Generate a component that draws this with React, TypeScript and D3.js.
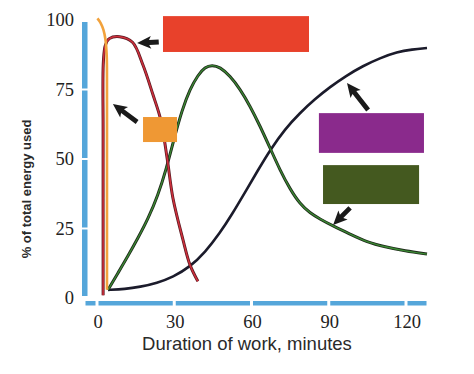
import React from "react";
import * as d3 from "d3";

const W = 474;
const H = 374;

const xTicks = [0, 30, 60, 90, 120];
const yTicks = [0, 25, 50, 75, 100];

// [minutes, % of total energy]
const orangeSeries: [number, number][] = [
  [-0.6, 100.6], [0.6, 99], [1.7, 96.5], [2.5, 93], [3.0, 87], [3.1, 75], [3.1, 50], [3.1, 25], [3.1, 3],
];
const redSeries: [number, number][] = [
  [1.6, 1], [1.6, 30], [1.6, 60], [1.7, 85], [2.5, 91], [4, 93.3], [8, 94], [13, 92], [17, 84],
  [21, 73], [24, 64], [26.5, 50], [28.7, 36], [32.6, 21], [35.3, 12], [38.4, 6],
];
const greenSeries: [number, number][] = [
  [3.5, 2.9], [7.38, 9.0], [11.26, 15.1], [15.15, 21.6], [19.03, 28.4], [22.91, 37.0],
  [26.02, 46.0], [29.13, 57.2], [32.23, 67.6], [35.34, 75.2], [38.45, 80.2], [41.17, 83.1],
  [43.88, 83.8], [46.99, 83.1], [50.87, 79.9], [54.76, 75.2], [58.64, 69.1], [62.52, 61.9],
  [66.41, 54.0], [70.29, 46.0], [74.17, 39.2], [78.06, 33.8], [81.94, 30.6], [85.83, 28.4],
  [90.87, 25.9], [97.48, 23.0], [104.08, 20.1], [111.07, 18.4], [118.83, 16.9], [127.38, 15.8],
];
const blackSeries: [number, number][] = [
  [3.5, 2.9], [10.1, 3.2], [15.92, 4.0], [22.52, 5.4], [28.74, 7.55], [35.34, 11.2],
  [41.17, 16.4], [46.99, 23.4], [51.65, 30.1], [56.7, 38.0], [61.75, 46.0], [66.41, 53.2],
  [72.23, 60.8], [78.06, 66.6], [83.88, 71.6], [89.71, 75.9], [95.92, 79.9], [102.52, 83.5],
  [109.13, 86.3], [115.73, 88.5], [121.55, 89.4], [127.38, 89.9],
];

// label boxes: [x0, x1, yTop, yBottom] in data units, fill
const boxX0 = [24.85, 17.1, 85.4, 87.0];
const boxX1 = [81.55, 30.3, 126.2, 124.3];
const boxYTop = [101.4, 65.1, 66.5, 47.8];
const boxYBot = [88.5, 56.1, 52.2, 33.8];
const boxFill = ["#e8412b", "#ef9834", "#8a2a8c", "#44591f"];

// arrows: tail -> tip in data units
const arrowTail: [number, number][] = [[23.2, 92.1], [14.8, 63.3], [104.5, 67.6], [97.5, 32.4]];
const arrowTip: [number, number][] = [[14.8, 91.7], [5.4, 69.8], [96.3, 77.3], [90.9, 26.3]];

export default function App() {
  const x = d3.scaleLinear().domain([0, 120]).range([99, 408]);
  const y = d3.scaleLinear().domain([0, 100]).range([298, 20]);
  const lineCR = d3
    .line<[number, number]>()
    .x((d) => x(d[0]))
    .y((d) => y(d[1]))
    .curve(d3.curveCatmullRom.alpha(0.5));
  const lineSmooth = d3
    .line<[number, number]>()
    .x((d) => x(d[0]))
    .y((d) => y(d[1]))
    .curve(d3.curveBasis);

  // axis bar segments between ticks
  const yEdges = [y(100) + 1, ...[75, 50, 25].map((v) => y(v)), y(0) - 1];
  const xEdges = [84, ...xTicks.map((v) => x(v) - 2), 428];

  const arrowPath = (tail: [number, number], tip: [number, number]) => {
    const tx = x(tail[0]), ty = y(tail[1]);
    const px = x(tip[0]), py = y(tip[1]);
    const dx = px - tx, dy = py - ty;
    const len = Math.hypot(dx, dy);
    const ux = dx / len, uy = dy / len;
    const nx = -uy, ny = ux;
    const headL = 12, headW = 6.5, shaftW = 2.4;
    const bx = px - ux * headL, by = py - uy * headL;
    const pts = [
      [tx + nx * shaftW, ty + ny * shaftW],
      [bx + nx * shaftW, by + ny * shaftW],
      [bx + nx * headW - ux * 2, by + ny * headW - uy * 2],
      [px, py],
      [bx - nx * headW - ux * 2, by - ny * headW - uy * 2],
      [bx - nx * shaftW, by - ny * shaftW],
      [tx - nx * shaftW, ty - ny * shaftW],
    ];
    return "M" + pts.map((p) => p[0].toFixed(1) + "," + p[1].toFixed(1)).join("L") + "Z";
  };

  return (
    <svg
      width={W}
      height={H}
      style={{ position: "absolute", left: 0, top: 0, background: "#fff" }}
    >
      {/* y axis bar */}
      {yEdges.slice(0, -1).map((e, i) => (
        <rect key={"ya" + i} x={82} y={e + 1} width={5.5} height={yEdges[i + 1] - e - 2} fill="#55a6da" />
      ))}
      {/* x axis bar */}
      {xEdges.slice(0, -1).map((e, i) => (
        <rect key={"xa" + i} x={e + 1.5} y={301} width={xEdges[i + 1] - e - 3} height={4.5} fill="#55a6da" />
      ))}

      {/* y tick labels */}
      {yTicks.map((v) => (
        <text key={"yt" + v} x={74} y={y(v)} dy="0.35em" textAnchor="end"
          fontFamily="'Liberation Serif', serif" fontSize={18.5} fill="#222">
          {v}
        </text>
      ))}
      {/* x tick labels */}
      {xTicks.map((v) => (
        <text key={"xt" + v} x={x(v) - 1} y={328} textAnchor="middle"
          fontFamily="'Liberation Serif', serif" fontSize={18.5} fill="#222">
          {v}
        </text>
      ))}

      {/* axis titles */}
      <text x={247} y={350} textAnchor="middle" fontFamily="'Liberation Sans', Arial, sans-serif"
        fontSize={18.5} fill="#2a2a2a">
        Duration of work, minutes
      </text>
      <text transform="translate(31,189) rotate(-90)" textAnchor="middle"
        fontFamily="'Liberation Sans', Arial, sans-serif" fontWeight="bold" fontSize={13} fill="#2a2a2a">
        % of total energy used
      </text>

      {/* curves */}
      <path d={lineSmooth(blackSeries) || ""} fill="none" stroke="#1b1b2b" strokeWidth={2.6} />
      <path d={lineSmooth(greenSeries) || ""} fill="none" stroke="#1e2a1a" strokeWidth={3} />
      <path d={lineSmooth(greenSeries) || ""} fill="none" stroke="#3c8a34" strokeWidth={1.3} />
      <path d={lineCR(redSeries) || ""} fill="none" stroke="#5a1a22" strokeWidth={3} />
      <path d={lineCR(redSeries) || ""} fill="none" stroke="#d0303c" strokeWidth={1.5} />
      <path d={lineCR(orangeSeries) || ""} fill="none" stroke="#f2a23c" strokeWidth={2.6} />

      {/* label boxes */}
      {boxFill.map((f, i) => (
        <rect key={"b" + i} x={x(boxX0[i])} y={y(boxYTop[i])} width={x(boxX1[i]) - x(boxX0[i])}
          height={y(boxYBot[i]) - y(boxYTop[i])} fill={f} />
      ))}

      {/* arrows */}
      {arrowTail.map((t, i) => (
        <path key={"a" + i} d={arrowPath(t, arrowTip[i])} fill="#1a1a1a" />
      ))}
    </svg>
  );
}
